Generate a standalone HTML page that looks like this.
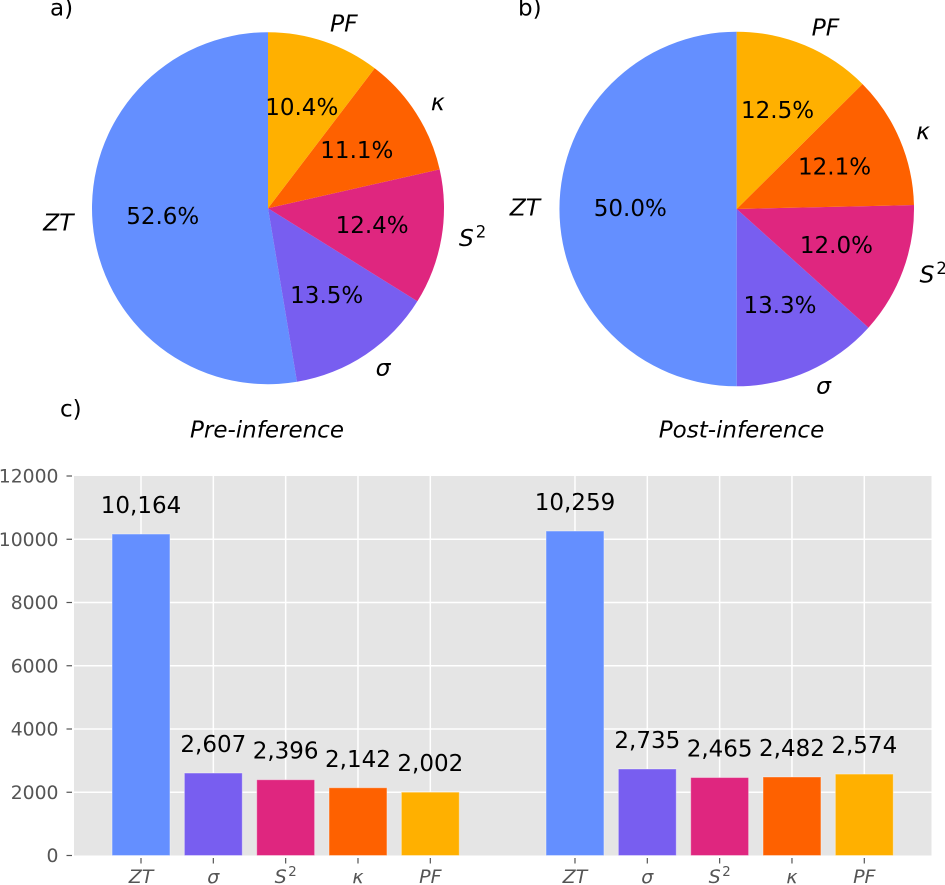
<!DOCTYPE html>
<html lang="en">
<head>
<meta charset="utf-8">
<title>Pre- and post-inference distribution</title>
<style>
  html, body { margin: 0; padding: 0; background: #fff; }
  svg { display: block; font-family: "DejaVu Sans", "Liberation Sans", sans-serif; }
</style>
</head>
<body>
<svg id="chart" xmlns="http://www.w3.org/2000/svg" width="945" height="885" viewBox="0 0 945 885">
  <rect width="945" height="885" fill="#ffffff"/>
  <text x="50" y="15.5" font-size="23" fill="#000">a)</text>
  <text x="518" y="15.5" font-size="23" fill="#000">b)</text>
  <text x="60" y="416.5" font-size="23" fill="#000">c)</text>
  <text x="267" y="437.5" font-size="23" font-style="italic" text-anchor="middle" fill="#000">Pre-inference</text>
  <text x="741.5" y="437.5" font-size="23" font-style="italic" text-anchor="middle" fill="#000">Post-inference</text>
  <g id="pie-pre"></g>
  <g id="pie-post"></g>
  <g id="bars"></g>
</svg>
<script>
const categories = ['ZT', 'σ', 'S^2', 'κ', 'PF'];
const categoryKeys = ['zt', 'sigma', 's2', 'kappa', 'pf'];
const preCounts = [10164, 2607, 2396, 2142, 2002];
const postCounts = [10259, 2735, 2465, 2482, 2574];
const yTicks = [0, 2000, 4000, 6000, 8000, 10000, 12000];
const colors = ['#648FFF', '#785EF0', '#DF267F', '#FE6100', '#FFB000'];

const NS = 'http://www.w3.org/2000/svg';
function make(parent, tag, attrs, text) {
  const el = document.createElementNS(NS, tag);
  for (const k in attrs) el.setAttribute(k, attrs[k]);
  if (text !== undefined) el.textContent = text;
  parent.appendChild(el);
  return el;
}
// Writes a category label, raising anything after "^" as a superscript.
function writeLabel(el, label, size) {
  const parts = label.split('^');
  make(el, 'tspan', {}, parts[0]);
  if (parts[1]) {
    make(el, 'tspan', { dx: size * 0.08, dy: -size * 0.36, 'font-size': size * 0.7, 'font-style': 'normal' }, parts[1]);
  }
}

/* ---------- pies ---------- */
function drawPie(host, prefix, counts, cx, cy, r) {
  const total = counts.reduce((a, b) => a + b, 0);
  let angle = 90;
  counts.forEach((value, i) => {
    const sweep = value / total * 360;
    const a0 = angle * Math.PI / 180;
    const a1 = (angle + sweep) * Math.PI / 180;
    const d = 'M' + cx + ' ' + cy +
      'L' + (cx + r * Math.cos(a0)) + ' ' + (cy - r * Math.sin(a0)) +
      'A' + r + ' ' + r + ' 0 ' + (sweep > 180 ? 1 : 0) + ' 0 ' +
      (cx + r * Math.cos(a1)) + ' ' + (cy - r * Math.sin(a1)) + 'Z';
    const slice = make(host, 'path', { d: d, fill: colors[i] });
    
    
    angle += sweep;
  });
  angle = 90;
  counts.forEach((value, i) => {
    const sweep = value / total * 360;
    const mid = (angle + sweep / 2) * Math.PI / 180;
    const pct = make(host, 'text', {
      x: cx + 0.6 * r * Math.cos(mid),
      y: cy - 0.6 * r * Math.sin(mid) + 7,
      'font-size': 23,
      'text-anchor': 'middle',
      fill: '#000'
    }, (value / total * 100).toFixed(1) + '%');
    
    
    const lx = cx + 1.1 * r * Math.cos(mid);
    const ly = cy - 1.1 * r * Math.sin(mid);
    const label = make(host, 'text', {
      x: Math.cos(mid) > 0 ? lx : lx - 1.5,
      y: ly + (categories[i].includes('^') ? 5.5 : 6.5),
      'font-size': 23.5,
      'font-style': 'italic',
      'text-anchor': Math.cos(mid) > 0 ? 'start' : 'end',
      fill: '#000'
    });
    writeLabel(label, categories[i], 23.5);
    
    
    angle += sweep;
  });
}
drawPie(document.getElementById('pie-pre'), 'pre-pie', preCounts, 268, 208.2, 176);
drawPie(document.getElementById('pie-post'), 'post-pie', postCounts, 736.7, 209, 177.3);

/* ---------- bars ---------- */
const plotLeft = 74, plotRight = 931.5, plotTop = 476, plotBottom = 855.5;
const step = 72.33, firstCenter = 141, yMax = 12000;
const xScale = pos => firstCenter + pos * step;
const yScale = v => plotBottom - v / yMax * (plotBottom - plotTop);
const barsHost = document.getElementById('bars');

const plotBg = make(barsHost, 'rect', {
  x: plotLeft, y: plotTop, width: plotRight - plotLeft, height: plotBottom - plotTop, fill: '#E5E5E5'
});



yTicks.forEach(t => {
  const y = yScale(t);
  if (t > 0 && t < yMax) {
    const grid = make(barsHost, 'line', { x1: plotLeft, x2: plotRight, y1: y, y2: y, stroke: '#fff', 'stroke-width': 1.5 });
    
    
  }
  const tick = make(barsHost, 'line', { x1: 66.5, x2: 72, y1: y, y2: y, stroke: '#555', 'stroke-width': 1.2 });
  
  
  const label = make(barsHost, 'text', {
    x: 58.5, y: y + 6.6, 'font-size': 18.8, 'text-anchor': 'end', fill: '#555'
  }, String(t));
  
  
});

function drawBars(prefix, counts, offset) {
  counts.forEach((value, i) => {
    const cx = xScale(offset + i);
    const grid = make(barsHost, 'line', { x1: cx, x2: cx, y1: plotTop, y2: plotBottom, stroke: '#fff', 'stroke-width': 1.5 });
    
    
  });
  counts.forEach((value, i) => {
    const cx = xScale(offset + i);
    const w = 0.8 * step;
    const bar = make(barsHost, 'rect', {
      x: cx - w / 2, y: yScale(value), width: w, height: plotBottom - yScale(value),
      fill: colors[i], stroke: 'rgba(255,255,255,0.35)', 'stroke-width': 1
    });
    
    
    const val = make(barsHost, 'text', {
      x: cx, y: yScale(value) - 21, 'font-size': 23, 'text-anchor': 'middle', fill: '#000'
    }, value.toLocaleString('en-US'));
    
    
    const tick = make(barsHost, 'line', { x1: cx, x2: cx, y1: 858, y2: 863.5, stroke: '#555', 'stroke-width': 1.2 });
    
    
    const label = make(barsHost, 'text', {
      x: cx, y: 883, 'font-size': 19, 'font-style': 'italic', 'text-anchor': 'middle', fill: '#555'
    });
    writeLabel(label, categories[i], 19);
    
    
  });
}
drawBars('pre', preCounts, 0);
drawBars('post', postCounts, 6);
</script>
</body>
</html>
